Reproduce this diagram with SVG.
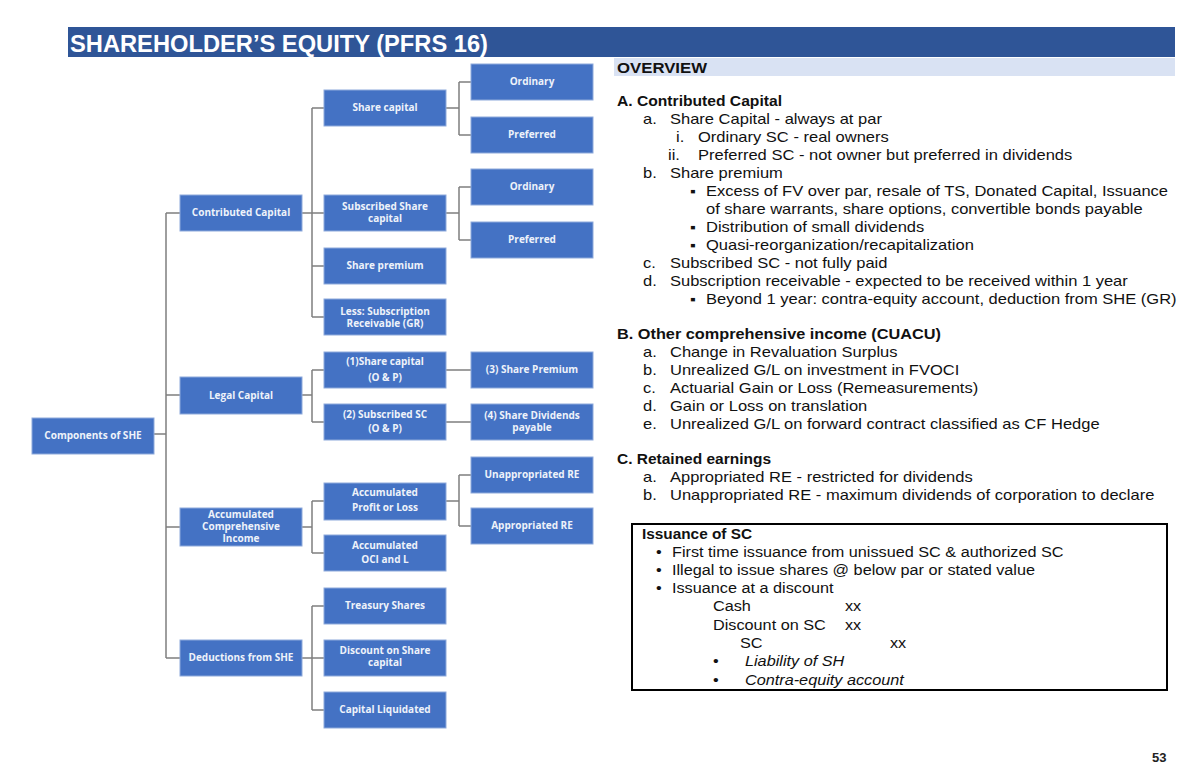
<svg xmlns="http://www.w3.org/2000/svg" width="1200" height="776" viewBox="0 0 1200 776">
<style>
.box{fill:#4472c4;stroke:#8eaadb;stroke-width:1}
.bt{font-family:"Open Sans","Liberation Sans",sans-serif;font-weight:700;font-size:10px;fill:#eef2fa;text-anchor:middle}
.con{stroke:#7f7f7f;stroke-width:1.5;fill:none}
.t{font-family:"Liberation Sans",Arial,sans-serif;font-size:14px;fill:#111}
.b{font-weight:bold;font-size:14.5px}
.i{font-style:italic}
</style>
<rect width="1200" height="776" fill="#fff"/>
<rect x="68" y="27" width="1107" height="30" fill="#2f5597"/>
<text x="70" y="52" font-family="Liberation Sans,Arial,sans-serif" font-weight="bold" font-size="24" fill="#fff" textLength="418" lengthAdjust="spacingAndGlyphs">SHAREHOLDER’S EQUITY (PFRS 16)</text>
<rect x="614" y="58" width="561" height="18" fill="#d9e2f3"/>

<g id="connectors">
<path class="con" d="M154 434H166M166 213V658M166 213H180M166 395H180M166 527H180M166 658H180"/>
<path class="con" d="M302 213H312M312 108V317M312 108H324M312 213H324M312 266H324M312 317H324"/>
<path class="con" d="M446 108H459M459 82V135M459 82H471M459 135H471"/>
<path class="con" d="M446 213H459M459 187V240M459 187H471M459 240H471"/>
<path class="con" d="M302 395H312M312 370V422M312 370H324M312 422H324M446 370H471M446 422H471"/>
<path class="con" d="M302 527H312M312 501V553M312 501H324M312 553H324"/>
<path class="con" d="M446 501H459M459 475V526M459 475H471M459 526H471"/>
<path class="con" d="M302 658H312M312 606V710M312 606H324M312 658H324M312 710H324"/>
</g>

<g id="n-components"><rect class="box" x="32" y="418" width="122" height="36"/><text class="bt" x="93" y="439">Components of SHE</text></g>
<g id="n-contributed"><rect class="box" x="180" y="195" width="122" height="36"/><text class="bt" x="241" y="216">Contributed Capital</text></g>
<g id="n-legal"><rect class="box" x="180" y="377" width="122" height="37"/><text class="bt" x="241" y="399">Legal Capital</text></g>
<g id="n-aci"><rect class="box" x="180" y="508" width="122" height="38"/><text class="bt" x="241" y="518">Accumulated</text><text class="bt" x="241" y="530">Comprehensive</text><text class="bt" x="241" y="542">Income</text></g>
<g id="n-deductions"><rect class="box" x="180" y="640" width="122" height="36"/><text class="bt" x="241" y="661">Deductions from SHE</text></g>

<g id="n-sharecap"><rect class="box" x="324" y="90" width="122" height="36"/><text class="bt" x="385" y="111">Share capital</text></g>
<g id="n-subsc"><rect class="box" x="324" y="195" width="122" height="36"/><text class="bt" x="385" y="210">Subscribed Share</text><text class="bt" x="385" y="222">capital</text></g>
<g id="n-sharepremium"><rect class="box" x="324" y="248" width="122" height="36"/><text class="bt" x="385" y="269">Share premium</text></g>
<g id="n-lesssub"><rect class="box" x="324" y="299" width="122" height="36"/><text class="bt" x="385" y="315">Less: Subscription</text><text class="bt" x="385" y="327">Receivable (GR)</text></g>

<g id="n-ord1"><rect class="box" x="471" y="64" width="122" height="36"/><text class="bt" x="532" y="85">Ordinary</text></g>
<g id="n-pref1"><rect class="box" x="471" y="117" width="122" height="36"/><text class="bt" x="532" y="138">Preferred</text></g>
<g id="n-ord2"><rect class="box" x="471" y="169" width="122" height="36"/><text class="bt" x="532" y="190">Ordinary</text></g>
<g id="n-pref2"><rect class="box" x="471" y="222" width="122" height="36"/><text class="bt" x="532" y="243">Preferred</text></g>

<g id="n-lc1"><rect class="box" x="324" y="352" width="122" height="36"/><text class="bt" x="385" y="365">(1)Share capital</text><text class="bt" x="385" y="381">(O &amp; P)</text></g>
<g id="n-lc2"><rect class="box" x="324" y="404" width="122" height="36"/><text class="bt" x="385" y="418">(2) Subscribed SC</text><text class="bt" x="385" y="432">(O &amp; P)</text></g>
<g id="n-lc3"><rect class="box" x="471" y="352" width="122" height="36"/><text class="bt" x="532" y="373">(3) Share Premium</text></g>
<g id="n-lc4"><rect class="box" x="471" y="404" width="122" height="36"/><text class="bt" x="532" y="419">(4) Share Dividends</text><text class="bt" x="532" y="431">payable</text></g>

<g id="n-apl"><rect class="box" x="324" y="483" width="122" height="37"/><text class="bt" x="385" y="496">Accumulated</text><text class="bt" x="385" y="511">Profit or Loss</text></g>
<g id="n-aoci"><rect class="box" x="324" y="535" width="122" height="36"/><text class="bt" x="385" y="549">Accumulated</text><text class="bt" x="385" y="563">OCI and L</text></g>
<g id="n-unapp"><rect class="box" x="471" y="457" width="122" height="36"/><text class="bt" x="532" y="478">Unappropriated RE</text></g>
<g id="n-app"><rect class="box" x="471" y="508" width="122" height="36"/><text class="bt" x="532" y="529">Appropriated RE</text></g>

<g id="n-ts"><rect class="box" x="324" y="588" width="122" height="36"/><text class="bt" x="385" y="609">Treasury Shares</text></g>
<g id="n-disc"><rect class="box" x="324" y="640" width="122" height="36"/><text class="bt" x="385" y="654">Discount on Share</text><text class="bt" x="385" y="666">capital</text></g>
<g id="n-liq"><rect class="box" x="324" y="692" width="122" height="36"/><text class="bt" x="385" y="713">Capital Liquidated</text></g>

<g id="headings">
<text class="t b" x="617" y="73" textLength="90" lengthAdjust="spacingAndGlyphs">OVERVIEW</text>
<text class="t b" x="617" y="106" textLength="165" lengthAdjust="spacingAndGlyphs">A. Contributed Capital</text>
<text class="t b" x="617" y="339" textLength="324" lengthAdjust="spacingAndGlyphs">B. Other comprehensive income (CUACU)</text>
<text class="t b" x="617" y="464" textLength="154" lengthAdjust="spacingAndGlyphs">C. Retained earnings</text>
<text class="t b" x="642" y="539" textLength="110" lengthAdjust="spacingAndGlyphs">Issuance of SC</text>
</g>

<rect x="632" y="524" width="535" height="166" fill="none" stroke="#000" stroke-width="2"/>

<g id="overview" transform="matrix(1.18 0 0 1 -111.06 0)">
<text class="t" x="639.03" y="124">a.</text><text class="t" x="661.92" y="124">Share Capital - always at par</text>
<text class="t" x="667" y="142">i.</text><text class="t" x="685.64" y="142">Ordinary SC - real owners</text>
<text class="t" x="660.22" y="160">ii.</text><text class="t" x="685.64" y="160">Preferred SC - not owner but preferred in dividends</text>
<text class="t" x="639.03" y="178">b.</text><text class="t" x="661.92" y="178">Share premium</text>
<text class="t" x="678.86" y="196">▪</text><text class="t" x="692.42" y="196">Excess of FV over par, resale of TS, Donated Capital, Issuance</text>
<text class="t" x="692.42" y="214">of share warrants, share options, convertible bonds payable</text>
<text class="t" x="678.86" y="232">▪</text><text class="t" x="692.42" y="232">Distribution of small dividends</text>
<text class="t" x="678.86" y="250">▪</text><text class="t" x="692.42" y="250">Quasi-reorganization/recapitalization</text>
<text class="t" x="639.03" y="268">c.</text><text class="t" x="661.92" y="268">Subscribed SC - not fully paid</text>
<text class="t" x="639.03" y="286">d.</text><text class="t" x="661.92" y="286">Subscription receivable - expected to be received within 1 year</text>
<text class="t" x="678.86" y="304">▪</text><text class="t" x="692.42" y="304">Beyond 1 year: contra-equity account, deduction from SHE (GR)</text>
<text class="t" x="639.03" y="357">a.</text><text class="t" x="661.92" y="357">Change in Revaluation Surplus</text>
<text class="t" x="639.03" y="375">b.</text><text class="t" x="661.92" y="375">Unrealized G/L on investment in FVOCI</text>
<text class="t" x="639.03" y="393">c.</text><text class="t" x="661.92" y="393">Actuarial Gain or Loss (Remeasurements)</text>
<text class="t" x="639.03" y="411">d.</text><text class="t" x="661.92" y="411">Gain or Loss on translation</text>
<text class="t" x="639.03" y="429">e.</text><text class="t" x="661.92" y="429">Unrealized G/L on forward contract classified as CF Hedge</text>
<text class="t" x="639.03" y="482">a.</text><text class="t" x="661.92" y="482">Appropriated RE - restricted for dividends</text>
<text class="t" x="639.03" y="500">b.</text><text class="t" x="661.92" y="500">Unappropriated RE - maximum dividends of corporation to declare</text>
</g>

<g id="issuance" transform="matrix(1.16 0 0 1 -98.72 0)">
<text class="t" x="650.62" y="557">•</text><text class="t" x="664.41" y="557">First time issuance from unissued SC &amp; authorized SC</text>
<text class="t" x="650.62" y="575">•</text><text class="t" x="664.41" y="575">Illegal to issue shares @ below par or stated value</text>
<text class="t" x="650.62" y="593">•</text><text class="t" x="664.41" y="593">Issuance at a discount</text>
<text class="t" x="699.76" y="611">Cash</text><text class="t" x="813.55" y="611">xx</text>
<text class="t" x="699.76" y="630">Discount on SC</text><text class="t" x="813.55" y="630">xx</text>
<text class="t" x="723.03" y="648">SC</text><text class="t" x="852.34" y="648">xx</text>
<text class="t" x="699.76" y="666">•</text><text class="t i" x="727.34" y="666">Liability of SH</text>
<text class="t" x="699.76" y="685">•</text><text class="t i" x="727.34" y="685">Contra-equity account</text>
</g>
<text x="1152" y="762" font-family="Liberation Sans,Arial,sans-serif" font-weight="bold" font-size="13" fill="#222">53</text>
</svg>
